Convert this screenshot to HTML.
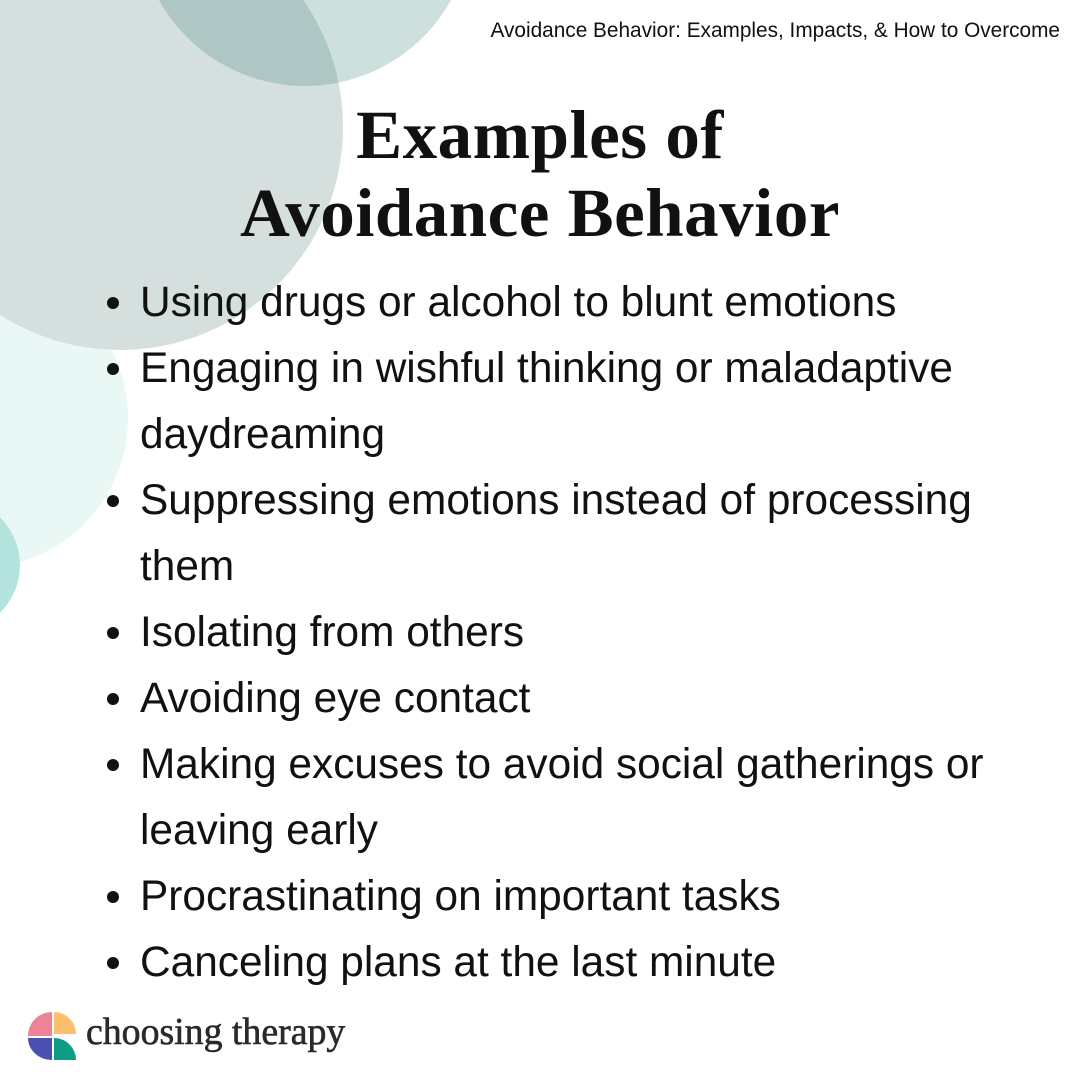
<!DOCTYPE html>
<html><head><style>
html,body{margin:0;padding:0}
body{width:1080px;height:1080px;background:#fff;position:relative;overflow:hidden;font-family:"Liberation Sans",sans-serif;color:#111}
.hdr{position:absolute;right:20px;top:19px;font-size:20.8px;color:#111;white-space:nowrap}
.title{position:absolute;left:0;width:1080px;top:96px;text-align:center;font-family:"Liberation Serif",serif;font-weight:bold;font-size:69px;line-height:78px;color:#111;letter-spacing:0.5px}
ul{position:absolute;left:140px;top:269px;margin:0;padding:0;list-style:none;font-size:42.4px;line-height:66px;white-space:nowrap}
li{position:relative}
li.b::before{content:"";position:absolute;left:-33px;top:28px;width:12px;height:12px;border-radius:50%;background:#111}
.logo{position:absolute;left:86px;top:1010px;font-family:"Liberation Serif",serif;font-size:37.8px;color:#2a2a2a;-webkit-text-stroke:0.6px #2a2a2a}
</style></head><body>
<svg width="1080" height="1080" style="position:absolute;left:0;top:0">
<defs><clipPath id="c1"><circle cx="120" cy="127" r="223"/></clipPath></defs>
<circle cx="-22" cy="418" r="150" fill="#e9f8f5"/>
<circle cx="-47" cy="565" r="67" fill="#b4e3de"/>
<circle cx="120" cy="127" r="223" fill="#d5e0de"/>
<circle cx="305" cy="-81" r="167" fill="#cde0dd"/>
<circle cx="305" cy="-81" r="167" fill="#aec6c4" clip-path="url(#c1)"/>
<path d="M28,1036 A24,24 0 0 1 52,1012 L52,1036 Z" fill="#f08298"/>
<path d="M54,1012 A22,22 0 0 1 76,1034 L54,1034 Z" fill="#fbbf6e"/>
<path d="M28,1038 L52,1038 L52,1060 A24,22 0 0 1 28,1038 Z" fill="#4a4fb0"/>
<path d="M54,1038 A22,22 0 0 1 76,1060 L54,1060 Z" fill="#0f9c86"/>
</svg>
<div class="hdr">Avoidance Behavior: Examples, Impacts, &amp; How to Overcome</div>
<div class="title">Examples of<br>Avoidance Behavior</div>
<ul>
<li class="b">Using drugs or alcohol to blunt emotions</li>
<li class="b">Engaging in wishful thinking or maladaptive</li>
<li>daydreaming</li>
<li class="b">Suppressing emotions instead of processing</li>
<li>them</li>
<li class="b">Isolating from others</li>
<li class="b">Avoiding eye contact</li>
<li class="b">Making excuses to avoid social gatherings or</li>
<li>leaving early</li>
<li class="b">Procrastinating on important tasks</li>
<li class="b">Canceling plans at the last minute</li>
</ul>
<div class="logo">choosing therapy</div>
</body></html>
